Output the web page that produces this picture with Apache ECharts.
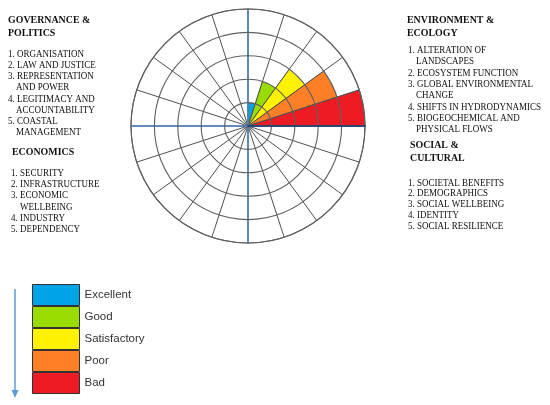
<!DOCTYPE html>
<html>
<head>
<meta charset="utf-8">
<script src="https://cdn.jsdelivr.net/npm/echarts@6/dist/echarts.min.js"></script>
<style>html,body{margin:0;padding:0;background:#fff;}#c{width:550px;height:405px;}</style>
</head>
<body>
<div id="c"></div>
<script>
// ---- data ----
const sectors = ['S1','S2','S3','S4','S5','S6','S7','S8','S9','S10','S11','S12','S13','S14','S15','S16','S17','S18','S19','S20'];
const statusNames = ['Excellent','Good','Satisfactory','Poor','Bad'];
const wedgeSector = [4, 3, 2, 1, 0];      // sector index of each status wedge (from east, counter-clockwise)
const wedgeValues = [1, 2, 3, 4, 5];      // ring reached by each wedge
const ringMax = 5;
const quadrants = ['Q1','Q2','Q3','Q4'];

const leftTitle1 = ['GOVERNANCE &', 'POLITICS'];
const leftItems1 = ['1. ORGANISATION','2. LAW AND JUSTICE','3. REPRESENTATION','AND POWER','4. LEGITIMACY AND','ACCOUNTABILITY','5. COASTAL','MANAGEMENT'];
const leftTitle2 = ['ECONOMICS'];
const leftItems2 = ['1. SECURITY','2. INFRASTRUCTURE','3. ECONOMIC','WELLBEING','4. INDUSTRY','5. DEPENDENCY'];
const rightTitle1 = ['ENVIRONMENT &', 'ECOLOGY'];
const rightItems1 = ['1. ALTERATION OF','LANDSCAPES','2. ECOSYSTEM FUNCTION','3. GLOBAL ENVIRONMENTAL','CHANGE','4. SHIFTS IN HYDRODYNAMICS','5. BIOGEOCHEMICAL AND','PHYSICAL FLOWS'];
const rightTitle2 = ['SOCIAL &', 'CULTURAL'];
const rightItems2 = ['1. SOCIETAL BENEFITS','2. DEMOGRAPHICS','3. SOCIAL WELLBEING','4. IDENTITY','5. SOCIAL RESILIENCE'];

// ---- styles ----
const statusColors = ['#00a2e8','#99dd00','#fff200','#ff7f27','#ed1c24'];
const serif = '"Liberation Serif", "DejaVu Serif", serif';

const chart = echarts.init(document.getElementById('c'), null, {renderer:'canvas'});

const series = statusNames.map((name, i) => {
  const d = sectors.map(() => '-');
  d[wedgeSector[i]] = wedgeValues[i];
  return {
    name: name, type: 'bar', coordinateSystem: 'polar', polarIndex: 0,
    stack: 'all', barCategoryGap: '0%', data: d, z: 2, silent: true,
    itemStyle: {color: statusColors[i], borderColor: '#555', borderWidth: 0.5}
  };
});

function textBlock(lines, xs, ys, bold, size) {
  return lines.map((t, i) => ({
    type: 'text', x: xs[i], y: ys[i], scaleX: 0.9, silent: true,
    style: {text: t, font: (bold ? 'bold ' : '') + size + 'px ' + serif, fill: '#111', textVerticalAlign: 'middle', textAlign: 'left'}
  }));
}

const graphics = [].concat(
  textBlock(leftTitle1, [8,8], [20,33], true, 11),
  textBlock(leftItems1, [8,8,8,16,8,16,8,16], [54,65,76,87,99,110,121,132], false, 10),
  textBlock(leftTitle2, [12], [152], true, 11),
  textBlock(leftItems2, [11,11,11,20,11,11], [173,184,195,207,218,229], false, 10),
  textBlock(rightTitle1, [407,407], [20,33], true, 11),
  textBlock(rightItems1, [408,416,408,408,416,408,408,416], [50,61,73,84,95,107,118,129], false, 10),
  textBlock(rightTitle2, [410,410], [145,158], true, 11),
  textBlock(rightItems2, [408,408,408,408,408], [183,193,204,215,226], false, 10),
  [
    {type:'line', silent:true, shape:{x1:15, y1:289, x2:15, y2:391}, style:{stroke:'#5b9bd5', lineWidth:1.5}},
    {type:'polygon', silent:true, shape:{points:[[11.5,390],[18.5,390],[15,398]]}, style:{fill:'#5b9bd5'}}
  ]
);

chart.setOption({
  animation: false,
  backgroundColor: '#fff',
  polar: [
    {center: [248, 126], radius: 117},
    {center: [248, 126], radius: 117}
  ],
  angleAxis: [
    {
      polarIndex: 0, type: 'category', data: sectors, startAngle: 0, clockwise: false, boundaryGap: true, z: 3,
      axisLine: {show: true, lineStyle: {color: '#606060', width: 1.1}},
      axisTick: {show: false, interval: 0}, axisLabel: {show: false},
      splitLine: {show: true, interval: 0, lineStyle: {color: '#505050', width: 1}}
    },
    {
      polarIndex: 1, type: 'category', data: quadrants, startAngle: 0, clockwise: false, boundaryGap: true, z: 4,
      axisLine: {show: false}, axisTick: {show: false, interval: 0}, axisLabel: {show: false},
      splitLine: {show: true, interval: 0, lineStyle: {color: '#4f81bd', width: 1.6}}
    }
  ],
  radiusAxis: [
    {
      polarIndex: 0, type: 'value', min: 0, max: ringMax, interval: 1, z: 5,
      axisLine: {show: true, lineStyle: {color: '#1f3864', width: 1.6}},
      axisTick: {show: false}, axisLabel: {show: false},
      splitLine: {show: true, lineStyle: {color: '#606060', width: 1.1}}
    },
    {polarIndex: 1, type: 'value', min: 0, max: ringMax, show: false}
  ],
  legend: {
    orient: 'vertical', left: 32, top: 284, padding: 0,
    itemWidth: 47, itemHeight: 21, itemGap: 0, icon: 'rect', selectedMode: false,
    data: statusNames,
    itemStyle: {borderColor: '#333', borderWidth: 1},
    textStyle: {fontSize: 11.5, fontFamily: '"Liberation Sans", Arial, sans-serif', color: '#333'}
  },
  series: series,
  graphic: graphics
});
</script>
</body>
</html>
